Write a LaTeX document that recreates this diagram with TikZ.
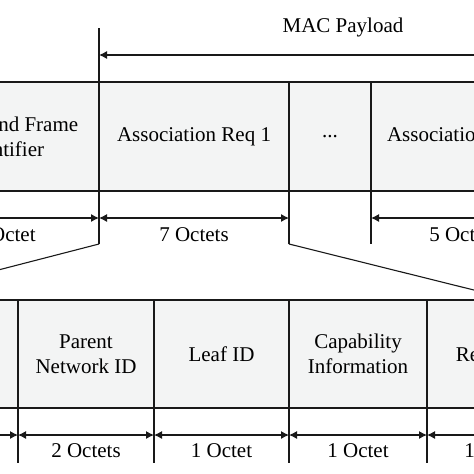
\documentclass[tikz,border=0pt]{standalone}
\usepackage{fontspec}
\setmainfont{Liberation Serif}
\usetikzlibrary{arrows.meta}
\definecolor{fieldgray}{RGB}{243,244,244}
\definecolor{linegray}{RGB}{25,25,25}

\begin{document}
\begin{tikzpicture}[x=1pt, y=-1pt,
    field/.style={draw=linegray, line width=1.1pt, fill=fieldgray, align=center,
      inner sep=0pt, outer sep=0pt, font=\fontsize{21}{25}\selectfont},
    toprow/.style={field, minimum height=109pt},
    botrow/.style={field, minimum height=108pt},
    tick/.style={draw=linegray, line width=1.1pt},
    dim/.style={tick, {Latex[length=8pt, width=8pt]}-{Latex[length=8pt, width=8pt]}},
    lbl/.style={font=\fontsize{21}{25}\selectfont, inner sep=2pt}]
  \useasboundingbox (0,0) rectangle (474,474);
  \clip (0,0) rectangle (474,474);
  % MAC frame
  \node[toprow, minimum width=188pt] (cmd) at (5,136.5) {Command Frame\\Identifier};
  \node[toprow, minimum width=190pt, anchor=west] (req1) at (cmd.east) {Association Req 1};
  \node[toprow, minimum width=82pt, anchor=west] (dots) at (req1.east) {...};
  \node[toprow, minimum width=186pt, anchor=west] (reqn) at (dots.east) {Association Req n};
  \coordinate (macend) at (587,55);
  \draw[tick] ([yshift=54pt]req1.north west) -- ([yshift=-53pt]req1.south west);
  \draw[tick] (dots.north west) -- ([yshift=-53pt]dots.south west);
  \draw[tick] (reqn.north west) -- ([yshift=-53pt]reqn.south west);
  \draw[dim] ([yshift=27pt]req1.north west) -- (macend) node[lbl, midway, above=15pt] {MAC Payload};
  \draw[dim] ([yshift=-27pt]cmd.south west) -- ([yshift=-27pt]cmd.south east) node[lbl, midway, below=7pt] {1 Octet};
  \draw[dim] ([yshift=-27pt]req1.south west) -- ([yshift=-27pt]req1.south east) node[lbl, midway, below=7pt] {7 Octets};
  \draw[dim] ([yshift=-27pt]reqn.south west) -- ([yshift=-27pt]reqn.south east) node[lbl, midway, below=7pt] {5 Octets};
  % association request fields
  \node[botrow, minimum width=136pt] (prev) at (-50,354) {};
  \node[botrow, minimum width=136pt, anchor=west] (parent) at (prev.east) {Parent\\Network ID};
  \node[botrow, minimum width=135pt, anchor=west] (leaf) at (parent.east) {Leaf ID};
  \node[botrow, minimum width=138pt, anchor=west] (cap) at (leaf.east) {Capability\\Information};
  \node[botrow, minimum width=136pt, anchor=west] (res) at (cap.east) {Reserved};
  \coordinate (zoomend) at (514,300);
  \draw[tick] ([yshift=-53pt]req1.south west) -- (prev.north west);
  \draw[tick] ([yshift=-53pt]dots.south west) -- (zoomend);
  \draw[tick] (parent.south west) -- ([yshift=-55pt]parent.south west);
  \draw[tick] (leaf.south west) -- ([yshift=-55pt]leaf.south west);
  \draw[tick] (cap.south west) -- ([yshift=-55pt]cap.south west);
  \draw[tick] (res.south west) -- ([yshift=-55pt]res.south west);
  \draw[dim] ([yshift=-27pt]prev.south west) -- ([yshift=-27pt]prev.south east);
  \draw[dim] ([yshift=-27pt]parent.south west) -- ([yshift=-27pt]parent.south east) node[lbl, midway, below=6pt] {2 Octets};
  \draw[dim] ([yshift=-27pt]leaf.south west) -- ([yshift=-27pt]leaf.south east) node[lbl, midway, below=6pt] {1 Octet};
  \draw[dim] ([yshift=-27pt]cap.south west) -- ([yshift=-27pt]cap.south east) node[lbl, midway, below=6pt] {1 Octet};
  \draw[dim] ([yshift=-27pt]res.south west) -- ([yshift=-27pt]res.south east) node[lbl, midway, below=6pt] {1 Octet};
\end{tikzpicture}
\end{document}
